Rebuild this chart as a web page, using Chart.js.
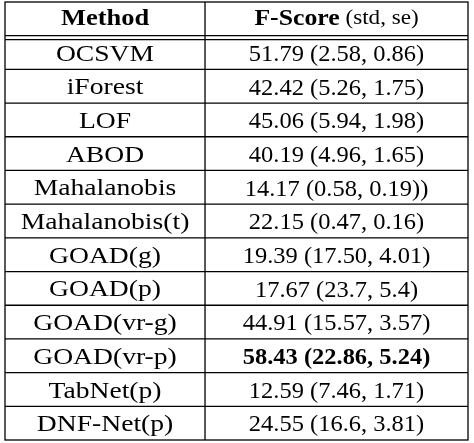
<!DOCTYPE html>
<html><head><meta charset="utf-8">
<script src="https://cdn.jsdelivr.net/npm/chart.js@4"></script>
<style>html,body{margin:0;padding:0;background:#fff}#w{width:474px;height:443px}</style>
</head><body><div id="w"><canvas id="c"></canvas></div>
<script>
const methods=['OCSVM','iForest','LOF','ABOD','Mahalanobis','Mahalanobis(t)','GOAD(g)','GOAD(p)','GOAD(vr-g)','GOAD(vr-p)','TabNet(p)','DNF-Net(p)'];
const fscore=['51.79','42.42','45.06','40.19','14.17','22.15','19.39','17.67','44.91','58.43','12.59','24.55'];
const stds=['2.58','5.26','5.94','4.96','0.58','0.47','17.50','23.7','15.57','22.86','7.46','16.6'];
const ses=['0.86','1.75','1.98','1.65','0.19)','0.16','4.01','5.4','3.57','5.24','1.71','3.81'];
const bestRow='GOAD(vr-p)';
const labels=['Method',...methods];
const F='"Liberation Serif","DejaVu Serif",serif';
function txt(c,s,x,y,sx){c.save();c.translate(x,y);c.scale(sx,1);c.fillText(s,0,0);c.restore();}
const tablePlugin={id:'tbl',afterDraw(ch){
 const c=ch.ctx,x=ch.scales.x,y=ch.scales.y,a=ch.chartArea;
 const band=(y.getPixelForValue(1)-y.getPixelForValue(0));
 const div=x.getPixelForValue(0.432);
 c.save();c.strokeStyle='#000';c.fillStyle='#000';c.lineWidth=1.3;
 c.strokeRect(a.left,a.top,a.right-a.left,a.bottom-a.top);
 c.beginPath();c.moveTo(div,a.top);c.lineTo(div,a.bottom);c.stroke();
 for(let i=0;i<labels.length-1;i++){
  const yb=y.getPixelForValue(i)+band/2;
  c.beginPath();c.moveTo(a.left,yb);c.lineTo(a.right,yb);c.stroke();
  if(i===0){c.beginPath();c.moveTo(a.left,yb+4);c.lineTo(a.right,yb+4);c.stroke();}
 }
 c.textBaseline='middle';
 const cx1=(a.left+div)/2,cx2=(div+a.right)/2;
 for(let i=0;i<labels.length;i++){
  const yc=y.getPixelForValue(i)+(i>0?2:0);
  c.textAlign='center';
  if(i===0){
   c.font='bold 23px '+F;txt(c,'Method',cx1,yc,1.15);
   const b='F-Score',n=' (std, se)';
   c.font='bold 23px '+F;const wb=c.measureText(b).width*1.12;
   c.font='21px '+F;const wn=c.measureText(n).width*1.1;
   const s=cx2-(wb+wn)/2;c.textAlign='left';
   c.font='bold 23px '+F;txt(c,b,s,yc,1.12);
   c.font='21px '+F;txt(c,n,s+wb,yc,1.1);
  } else {
   const k=i-1;
   c.font='23px '+F;txt(c,methods[k],cx1,yc,1.2);
   c.font=(methods[k]===bestRow?'bold ':'')+'24px '+F;
   txt(c,fscore[k]+' ('+stds[k]+', '+ses[k]+')',cx2,yc,1.02);
  }
 }
 c.restore();
}};
new Chart(document.getElementById('c'),{type:'scatter',
 data:{labels,datasets:[{data:[],pointRadius:0}]},
 options:{responsive:true,maintainAspectRatio:false,animation:false,
  layout:{padding:{left:5,right:6,top:2,bottom:3}},
  plugins:{legend:{display:false},tooltip:{enabled:false}},
  scales:{x:{type:'linear',min:0,max:1,display:false},
   y:{type:'category',labels,offset:true,display:false}}},
 plugins:[tablePlugin]});
</script></body></html>
